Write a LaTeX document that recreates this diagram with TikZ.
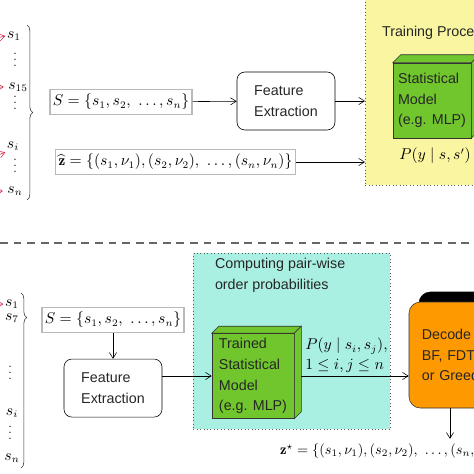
\documentclass[tikz,border=0pt]{standalone}
\usepackage{amsmath}
\usepackage{amssymb}
\usepackage{xcolor}
\usepackage{fontspec}
\setsansfont{Liberation Sans}
\usepackage{tikz}
\usetikzlibrary{positioning,shadows,arrows.meta,decorations.pathreplacing}

\definecolor{trainYellow}{RGB}{250,245,160}
\definecolor{pairCyan}{RGB}{170,240,226}
\definecolor{modelGreen}{RGB}{112,198,44}
\definecolor{decodeOrange}{RGB}{255,153,0}
\definecolor{seqRed}{RGB}{214,36,72}

\tikzset{
  sansText/.style={font=\sffamily\fontsize{10}{14.5}\selectfont, text=black!85},
  mathText/.style={font=\fontsize{10.6}{12.5}\selectfont},
  setBox/.style={draw=gray!55, line width=0.8pt, rectangle, inner sep=2pt, minimum height=17.5pt, mathText},
  featureBox/.style={draw, rectangle, rounded corners=5.5pt, sansText, align=left, minimum width=68.6pt, minimum height=40.6pt},
  modelBox/.style={draw=black!80, fill=modelGreen, rectangle, sansText, align=left},
  modelSide/.style={draw=black!80, fill=modelGreen},
  regionBox/.style={draw=black!65, dotted, rectangle, anchor=north west},
  seqLabel/.style={inner sep=1pt, font=\fontsize{10.5}{12}\selectfont},
  seqDots/.style={inner sep=0pt, text height=8.5pt, text depth=0pt, font=\fontsize{8.5}{10}\selectfont},
  seqArrow/.style={->, seqRed, thin},
  seqBrace/.style={draw=black!80, decorate, decoration={brace, amplitude=4pt}},
}

\begin{document}
\begin{tikzpicture}[x=0.7pt, y=-0.7pt, >={Straight Barb[length=4pt,width=5pt]}, thin]
  \useasboundingbox (0,0) rectangle (474,474);
  \clip (0,0) rectangle (474,474);

  % training part
  \node[regionBox, fill=trainYellow, minimum width=150pt, minimum height=143.5pt] (trainRegion) at (365,-20) {};
  \node[sansText, anchor=west] (trainTitle) at (377,33) {Training Proce};
  \node[modelBox, minimum width=54.6pt, minimum height=52.5pt] (trainModel) at (432,100.5) {Statistical\\Model\\(e.g. MLP)};
  \draw[modelSide] (trainModel.north west) -- ++(8,-8) -- ([shift={(8,-8)}]trainModel.north east) -- (trainModel.north east) -- cycle;
  \draw[modelSide] (trainModel.north east) -- ++(8,-8) -- ([shift={(8,-8)}]trainModel.south east) -- (trainModel.south east) -- cycle;
  \node[mathText] (trainProb) at (435,156) {$P(y\mid s,s')$};

  \node[seqLabel] (seqTopOne) at (14,36) {$s_1$};
  \node[seqDots] (seqTopDotsA) at (15,60) {$\vdots$};
  \node[seqLabel] (seqTopFifteen) at (18,87) {$s_{15}$};
  \node[seqDots] (seqTopDotsB) at (15,103) {$\vdots$};
  \node[seqLabel] (seqTopI) at (13,146) {$s_i$};
  \node[seqDots] (seqTopDotsC) at (15,166) {$\vdots$};
  \node[seqLabel] (seqTopN) at (15,191) {$s_n$};
  \coordinate (braceTopStart) at (27,25);
  \coordinate (braceTopEnd) at (27,200);
  \draw[seqBrace] (braceTopStart) -- (braceTopEnd);

  \coordinate (inTopOne) at (-30,44);
  \coordinate (inTopFifteen) at (-30,88);
  \coordinate (inTopI) at (-20,162);
  \coordinate (inTopN) at (-30,193);
  \draw[seqArrow] (inTopOne) -- (seqTopOne.west);
  \draw[seqArrow] (inTopFifteen) -- ([xshift=-2pt]seqTopFifteen.west);
  \draw[seqArrow] (inTopI) -- (seqTopI.south west);
  \draw[seqArrow] (inTopN) -- ([xshift=-2pt]seqTopN.west);

  \node[setBox] (setTop) at (121,102) {$S=\{s_1,s_2,\ \dots,s_n\}$};
  \node[featureBox] (featTop) at (286,101) {Feature\\Extraction};
  \node[setBox] (zHatTop) at (175.5,162) {$\widehat{\mathbf{z}}=\{(s_1,\nu_1),(s_2,\nu_2),\ \dots,(s_n,\nu_n)\}$};

  \draw[->] (setTop) -- (featTop);
  \draw[->] (featTop) -- (featTop -| trainRegion.west);
  \draw[->] (zHatTop) -- (zHatTop -| trainRegion.west);

  % separator
  \coordinate (sepLeft) at (0,243);
  \coordinate (sepRight) at (474,243);
  \draw[black!60, line width=0.8pt, dash pattern=on 5.5pt off 4pt] (sepLeft) -- (sepRight);

  % testing part
  \node[regionBox, fill=pairCyan, minimum width=137.9pt, minimum height=123.2pt] (pairRegion) at (193,253) {};
  \node[sansText, anchor=west, align=left] (pairTitle) at (210,275) {Computing pair-wise\\order probabilities};
  \node[modelBox, minimum width=57.4pt, minimum height=54.6pt] (testModel) at (253,376) {Trained\\Statistical\\Model\\(e.g. MLP)};
  \draw[modelSide] (testModel.north west) -- ++(7,-7) -- ([shift={(7,-7)}]testModel.north east) -- (testModel.north east) -- cycle;
  \draw[modelSide] (testModel.north east) -- ++(7,-7) -- ([shift={(7,-7)}]testModel.south east) -- (testModel.south east) -- cycle;

  \node[seqLabel] (seqBotOne) at (12,304) {$s_1$};
  \node[seqLabel] (seqBotSeven) at (12,318) {$s_7$};
  \node[seqDots] (seqBotDotsA) at (10,373) {$\vdots$};
  \node[seqLabel] (seqBotI) at (12,413) {$s_i$};
  \node[seqDots] (seqBotDotsB) at (10,433) {$\vdots$};
  \node[seqLabel] (seqBotN) at (12,458) {$s_n$};
  \coordinate (braceBotStart) at (21,293);
  \coordinate (braceBotEnd) at (21,468);
  \draw[seqBrace, decoration={brace, amplitude=4pt, aspect=0.14}] (braceBotStart) -- (braceBotEnd);
  \coordinate (inBotOne) at (-30,306);
  \draw[seqArrow] (inBotOne) -- (seqBotOne.west);

  \node[setBox] (setBottom) at (113,320) {$S=\{s_1,s_2,\ \dots,s_n\}$};
  \node[featureBox, below=18pt of setBottom] (featBottom) {Feature\\Extraction};
  \draw[->] (setBottom) -- (featBottom);
  \draw[->] (featBottom.east |- testModel) -- (testModel.west);

  \node[draw=black!80, fill=decodeOrange, rectangle, rounded corners=8pt, sansText, align=left,
        text width=80pt, inner xsep=9pt, minimum height=74.2pt,
        copy shadow={shadow xshift=7pt, shadow yshift=7pt, fill=black, draw=black}] (decode) at (479,355) {Decode\\BF, FDT\\or Greed};
  \draw[->] ([xshift=5pt]testModel.east) -- node[pos=0, anchor=south west, align=left, inner xsep=2.5pt, inner ysep=2.5pt, font=\fontsize{10.6}{13.5}\selectfont] (pairProb) {$P(y\mid s_i,s_j),$\\$1\le i,j\le n$} (decode.west |- testModel);

  \node[font=\fontsize{10.2}{12}\selectfont, anchor=west] (zStar) at (275,451) {$\mathbf{z}^\star=\{(s_1,\nu_1),(s_2,\nu_2),\ \dots,(s_n,$};
  \draw[->] ([xshift=-20.3pt]decode.south) -- ([xshift=-20.3pt]decode.south |- zStar.north);
\end{tikzpicture}
\end{document}
